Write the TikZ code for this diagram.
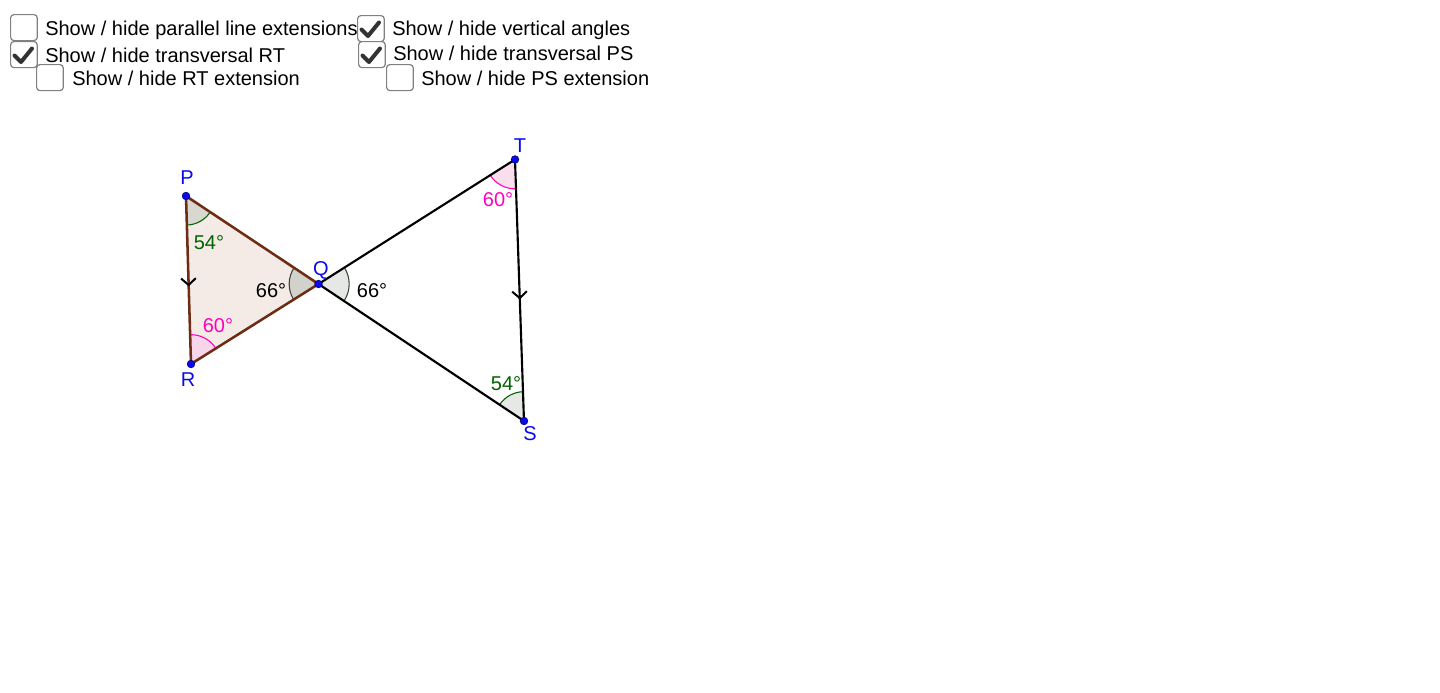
\documentclass[tikz,border=0pt]{standalone}
\usepackage{fontspec}
\setmainfont{Liberation Sans}
\usetikzlibrary{angles,decorations.markings}
\definecolor{brownedge}{RGB}{110,44,20}
\definecolor{trifill}{RGB}{245,235,230}
\definecolor{ggreen}{RGB}{0,100,0}
\definecolor{gmag}{RGB}{255,0,190}
\definecolor{gblue}{RGB}{10,10,235}
\definecolor{secP}{RGB}{216,216,208}
\definecolor{secR}{RGB}{246,214,232}
\definecolor{secQl}{RGB}{210,210,204}
\definecolor{secQr}{RGB}{230,232,230}
\definecolor{secT}{RGB}{250,222,237}
\definecolor{secS}{RGB}{230,232,230}
\definecolor{boxgray}{RGB}{128,128,128}
\definecolor{checkgray}{RGB}{51,51,51}
\tikzset{
  cbox/.style={draw=boxgray, line width=0.9pt, fill=white, rounded corners=2.5pt,
    minimum width=20pt, minimum height=19.5pt, inner sep=0pt, anchor=north west},
  cbtext/.style={anchor=base west, inner sep=0pt, font=\fontsize{15}{18}\selectfont},
  ptlabel/.style={text=gblue, inner sep=0pt, font=\fontsize{15}{18}\selectfont},
  anglabel/.style={inner sep=0pt, font=\fontsize{15}{18}\selectfont},
  ptdot/.style={circle, fill=gblue, draw=blue!40!black, line width=0.4pt, minimum size=5.8pt, inner sep=0pt},
  brownline/.style={draw=brownedge, line width=1.9pt},
  blackline/.style={draw=black, line width=1.6pt},
  parmark/.style={postaction={decorate, decoration={markings,
      mark=at position 0.53 with {\draw[black, line width=1.5pt] (-5pt,5.5pt) -- (0,0) -- (-5pt,-5.5pt);}}}},
}
\newcommand{\chk}[1]{\draw[checkgray, line width=3pt, line cap=round, line join=round]
  ([shift={(4.5,14.5)}]#1.north west) -- ([shift={(11,21)}]#1.north west) -- ([shift={(22,7.5)}]#1.north west);}
\begin{document}
\begin{tikzpicture}[x=0.75pt, y=-0.75pt]
\useasboundingbox (0,0) rectangle (1440,693);
\fill[white] (0,0) rectangle (1440,693);

% checkboxes
\node[cbox] (cb1) at (10,14) {};
\node[cbtext] (t1) at (45,35) {Show / hide parallel line extensions};
\node[cbox] (cb2) at (10,41) {};
\node[cbtext] (t2) at (45,62) {Show / hide transversal RT};
\node[cbox] (cb3) at (36,64) {};
\node[cbtext] (t3) at (72,85) {Show / hide RT extension};
\node[cbox] (cb4) at (357,15) {};
\node[cbtext] (t4) at (392,35) {Show / hide vertical angles};
\node[cbox] (cb5) at (358,41) {};
\node[cbtext] (t5) at (393,60) {Show / hide transversal PS};
\node[cbox] (cb6) at (386,64) {};
\node[cbtext] (t6) at (421,85) {Show / hide PS extension};
\chk{cb2}
\chk{cb4}
\chk{cb5}

% points
\coordinate (P) at (186,196);
\coordinate (R) at (191,364);
\coordinate (Q) at (318.5,284);
\coordinate (T) at (515,159.5);
\coordinate (S) at (524,421);

% triangle fill
\fill[trifill] (P) -- (Q) -- (R) -- cycle;

% angle sectors
\pic[draw=ggreen, line width=0.8pt, fill=secP, angle radius=21.8pt] {angle = R--P--Q};
\pic[draw=gmag, line width=0.8pt, fill=secR, angle radius=22pt] {angle = Q--R--P};
\pic[draw=black!75, line width=0.8pt, fill=secQl, angle radius=22pt] {angle = P--Q--R};
\pic[draw=black!75, line width=0.8pt, fill=secQr, angle radius=23pt] {angle = S--Q--T};
\pic[draw=gmag, line width=0.8pt, fill=secT, angle radius=22pt] {angle = Q--T--S};
\pic[draw=ggreen, line width=0.8pt, fill=secS, angle radius=22pt] {angle = T--S--Q};

% edges
\draw[brownline, parmark] (P) -- (R);
\draw[brownline] (P) -- (Q);
\draw[brownline] (R) -- (Q);
\draw[blackline] (Q) -- (T);
\draw[blackline] (Q) -- (S);
\draw[blackline, parmark] (T) -- (S);

% dots
\node[ptdot] (dP) at (P) {};
\node[ptdot] (dR) at (R) {};
\node[ptdot] (dQ) at (Q) {};
\node[ptdot] (dT) at (T) {};
\node[ptdot] (dS) at (S) {};

% point labels
\node[ptlabel] (lP) at (187,178) {P};
\node[ptlabel] (lR) at (188,380) {R};
\node[ptlabel] (lQ) at (321,270) {Q};
\node[ptlabel] (lT) at (520,146) {T};
\node[ptlabel] (lS) at (530,434) {S};

% angle labels
\node[anglabel, text=ggreen] (aP) at (209,243) {54°};
\node[anglabel, text=gmag] (aR) at (218,326) {60°};
\node[anglabel] (aQl) at (271,291) {66°};
\node[anglabel] (aQr) at (372,291) {66°};
\node[anglabel, text=gmag] (aT) at (498,200) {60°};
\node[anglabel, text=ggreen] (aS) at (506,384) {54°};
\end{tikzpicture}
\end{document}
